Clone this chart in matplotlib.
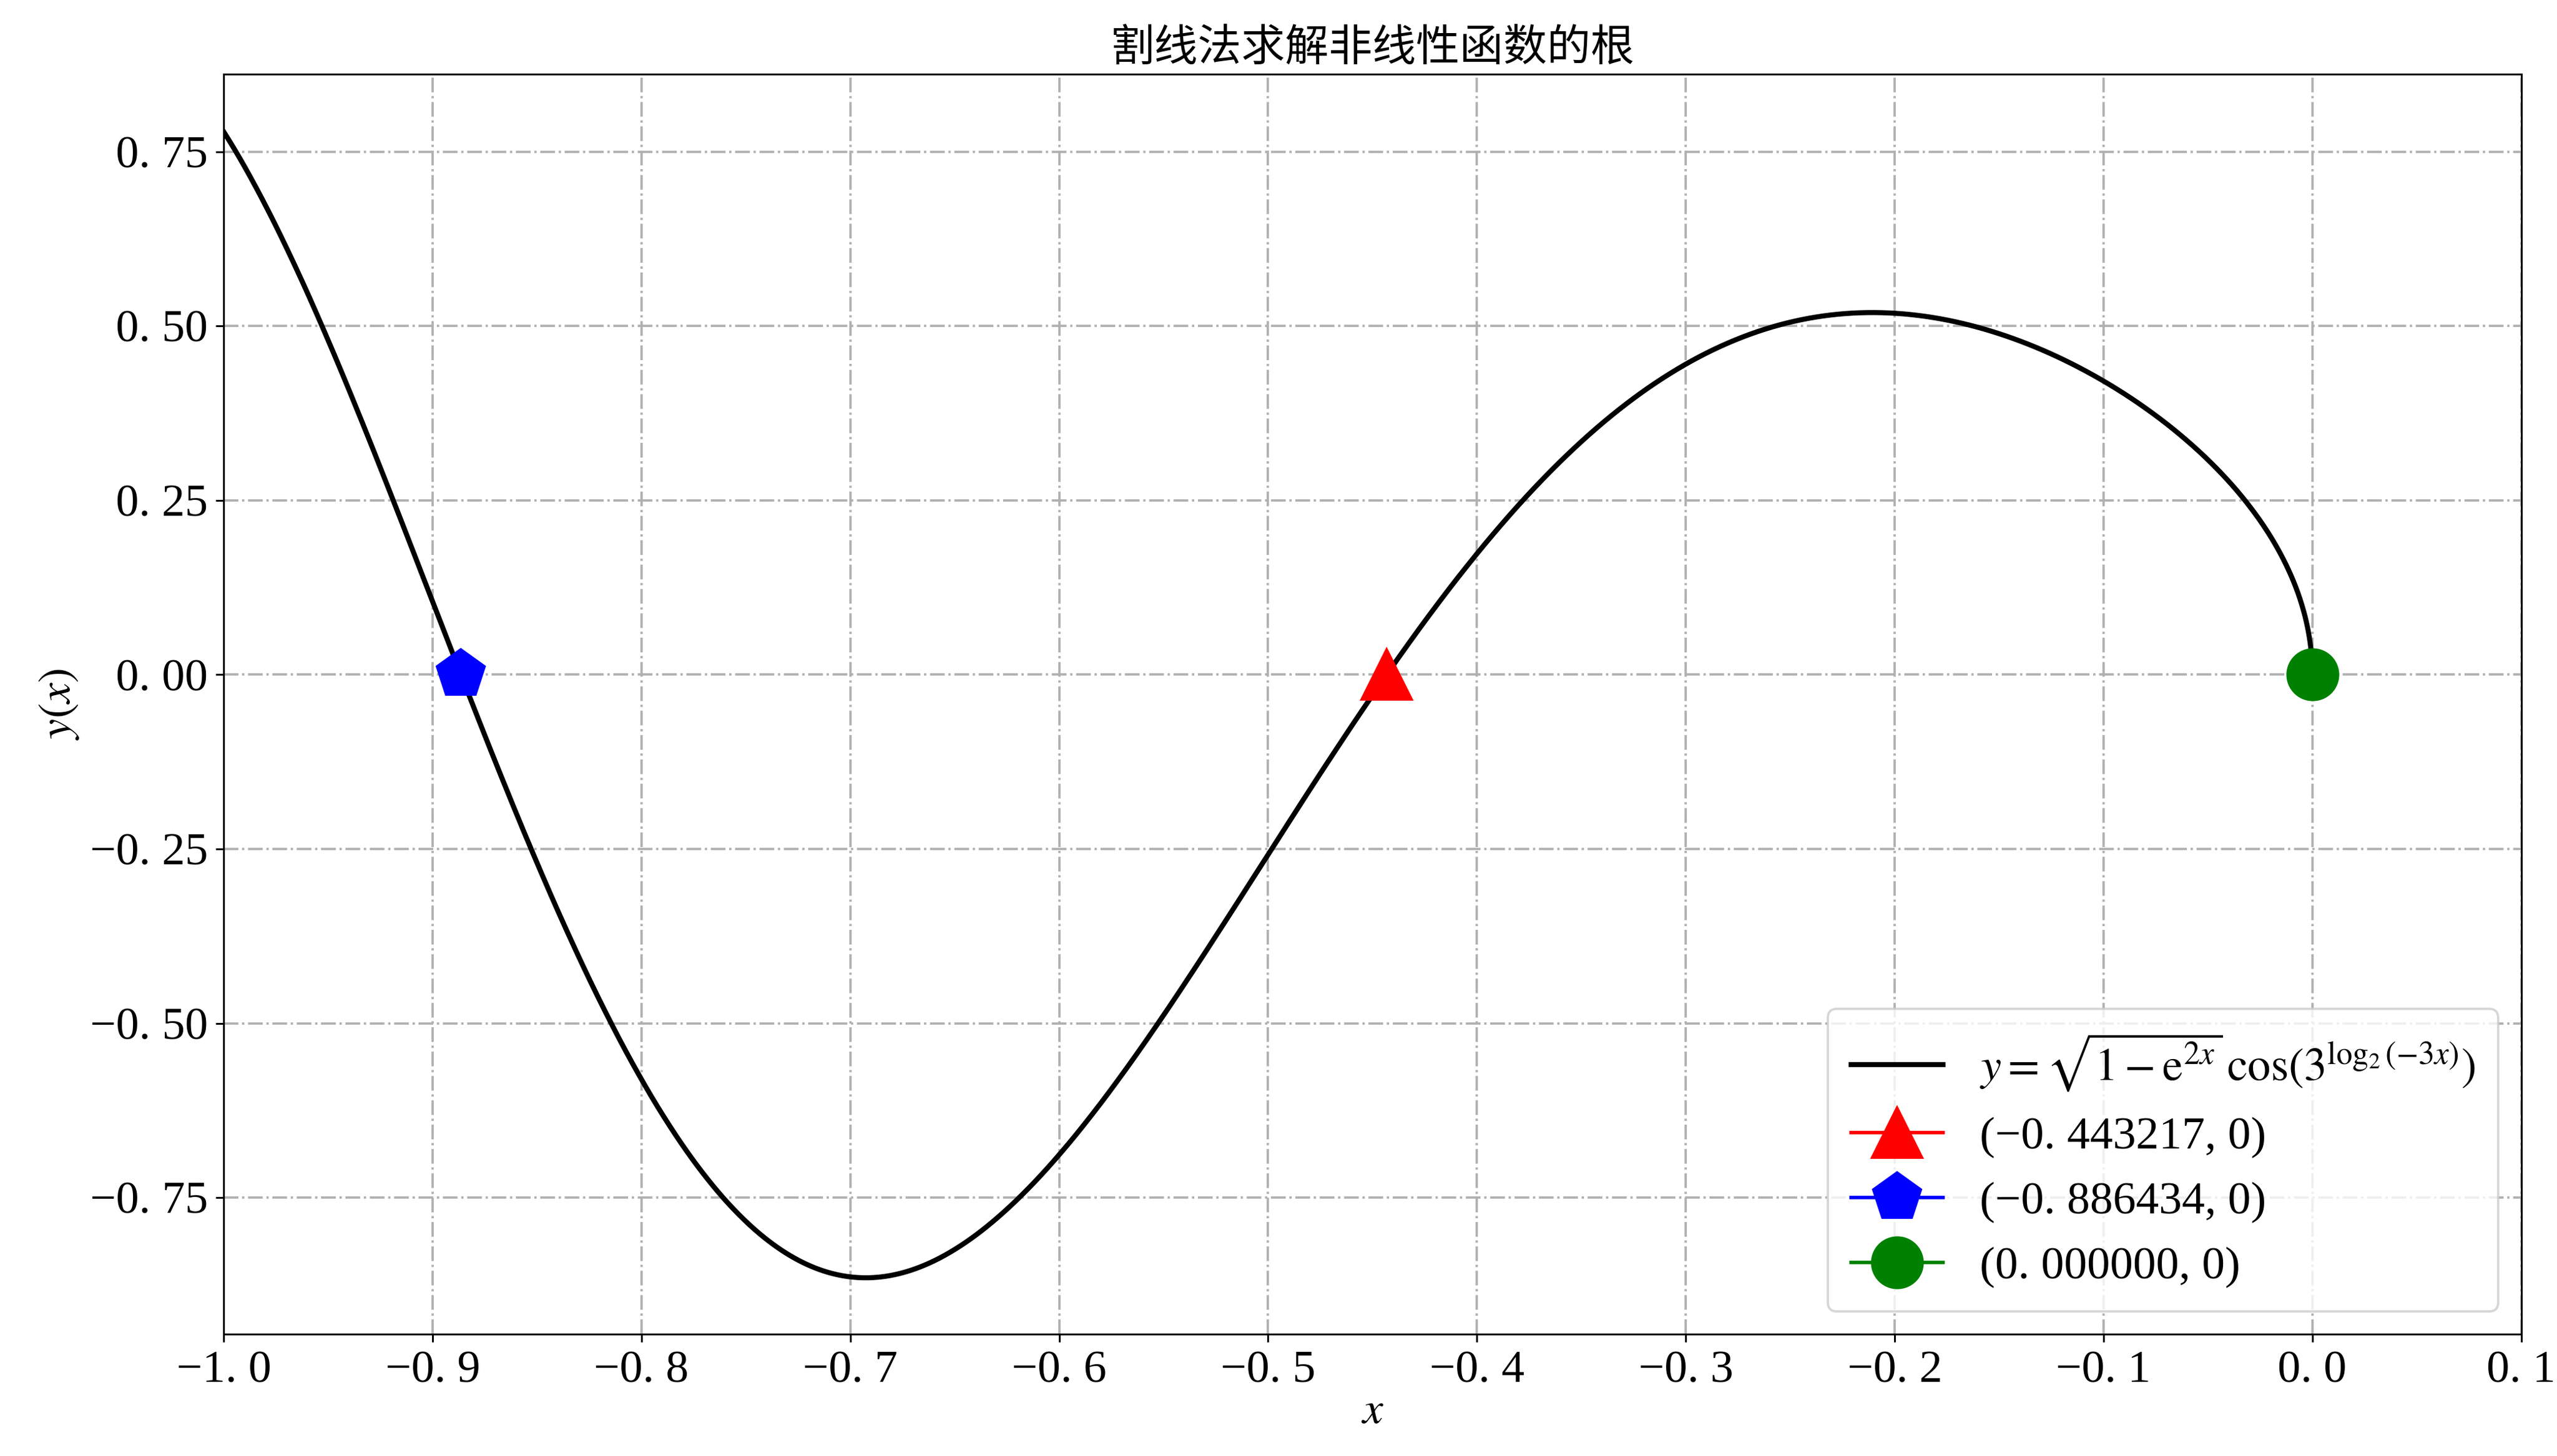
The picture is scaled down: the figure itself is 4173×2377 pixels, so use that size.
import numpy as np
import matplotlib
matplotlib.use('Agg')
import matplotlib.pyplot as plt

plt.rcParams['font.family'] = ['Liberation Serif', 'Noto Sans CJK SC', 'DejaVu Sans']
plt.rcParams['mathtext.fontset'] = 'stix'
plt.rcParams['axes.unicode_minus'] = True

# curve domain and the roots found by the secant method
x_start, x_end = -1.0, 0.0
root_x = [-0.443217, -0.886434, 0.000000]
root_y = [0, 0, 0]
root_labels = ['(−0. 443217, 0)', '(−0. 886434, 0)', '(0. 000000, 0)']
root_markers = ['^', 'p', 'o']
root_colors = ['red', 'blue', 'green']
x_ticks = [-1.0, -0.9, -0.8, -0.7, -0.6, -0.5, -0.4, -0.3, -0.2, -0.1, 0.0, 0.1]
x_tick_labels = ['−1. 0', '−0. 9', '−0. 8', '−0. 7', '−0. 6', '−0. 5',
                 '−0. 4', '−0. 3', '−0. 2', '−0. 1', '0. 0', '0. 1']
y_ticks = [-0.75, -0.5, -0.25, 0, 0.25, 0.5, 0.75]
y_tick_labels = ['−0. 75', '−0. 50', '−0. 25', '0. 00', '0. 25', '0. 50', '0. 75']

x = np.linspace(x_start, -1e-9, 2000)
y = np.sqrt(1 - np.exp(2 * x)) * np.cos(3 ** np.log2(-3 * x))

fig = plt.figure(figsize=(4173 / 270, 2377 / 270), dpi=270)
ax = fig.add_axes([0.0875, 0.0836, 0.8985, 0.8654])

ax.plot(x, y, color='black', lw=2.2,
        label=r'$y=\sqrt{1-\mathrm{e}^{2x}}\,\cos(3^{\log_2(-3x)})$')
for rx, ry, lab, m, c in zip(root_x, root_y, root_labels, root_markers, root_colors):
    ax.plot(rx, ry, marker=m, color=c, markersize=22, linestyle='-', label=lab)

ax.set_xlim(-1.0, 0.1)
ax.set_ylim(-0.946, 0.861)
ax.set_xticks(x_ticks)
ax.set_xticklabels(x_tick_labels)
ax.set_yticks(y_ticks)
ax.set_yticklabels(y_tick_labels)
ax.tick_params(labelsize=20)
ax.grid(True, linestyle='-.', color='#b0b0b0', lw=1)
ax.set_xlabel(r'$x$', fontsize=20, labelpad=0)
ax.set_ylabel(r'$y(x)$', fontsize=20)
ax.set_title('割线法求解非线性函数的根', fontsize=19, family=['Noto Sans CJK SC', 'DejaVu Sans'])
ax.legend(loc='lower right', fontsize=20, handlelength=2.0, borderpad=0.5)

plt.savefig('out.png', dpi=270)
